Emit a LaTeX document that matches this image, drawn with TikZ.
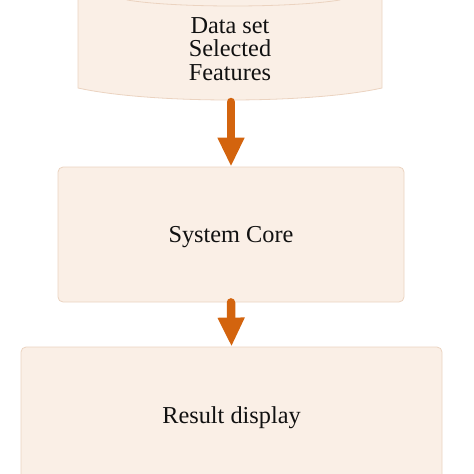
\documentclass[tikz,border=0pt]{standalone}
\usepackage{fontspec}
\setmainfont{Liberation Serif}
\usetikzlibrary{arrows.meta}
\definecolor{panel}{HTML}{FAEFE6}
\definecolor{edge}{HTML}{EBD3C0}
\definecolor{flow}{HTML}{D3640E}
\definecolor{ink}{HTML}{111111}
\tikzset{
  box/.style={draw=edge, fill=panel, line width=0.8pt, rounded corners=5pt, text=ink, text depth=0pt, font=\fontsize{24.3}{24}\selectfont},
  doc/.style={draw=edge, fill=panel, line width=0.8pt},
  arr/.style={draw=flow, line width=8.5pt, line cap=round, -{Triangle[width=25pt,length=29pt]}},
  lbl/.style={text=ink, font=\fontsize{24.3}{23.5}\selectfont, align=center}
}

\begin{document}
\begin{tikzpicture}[x=1pt, y=-1pt]
  \useasboundingbox (0,0) rectangle (474,474);
  \clip (0,0) rectangle (474,474);
  \coordinate (dl) at (78,88);
  \coordinate (dr) at (382,88);
  \coordinate (db) at (231,102);

  \draw[doc] (78,-10) -- (dl) .. controls (150,104) and (310,104) .. (dr) -- (382,-10) -- cycle;
  \draw[doc] (127,-5) -- (127,0) .. controls (175,8) and (290,8) .. (340,0) -- (340,-5);

  \node[lbl] (data) at (230,49) {Data set\\Selected\\Features};
  \node[box, minimum width=346pt, minimum height=135pt] (core) at (231,234.5) {System Core};
  \node[box, minimum width=421pt, minimum height=136pt] (result) at (231.5,415) {Result display};

  \draw[arr] (db) -- (core.north);
  \draw[arr] (core.south) -- (result.north);
\end{tikzpicture}
\end{document}
